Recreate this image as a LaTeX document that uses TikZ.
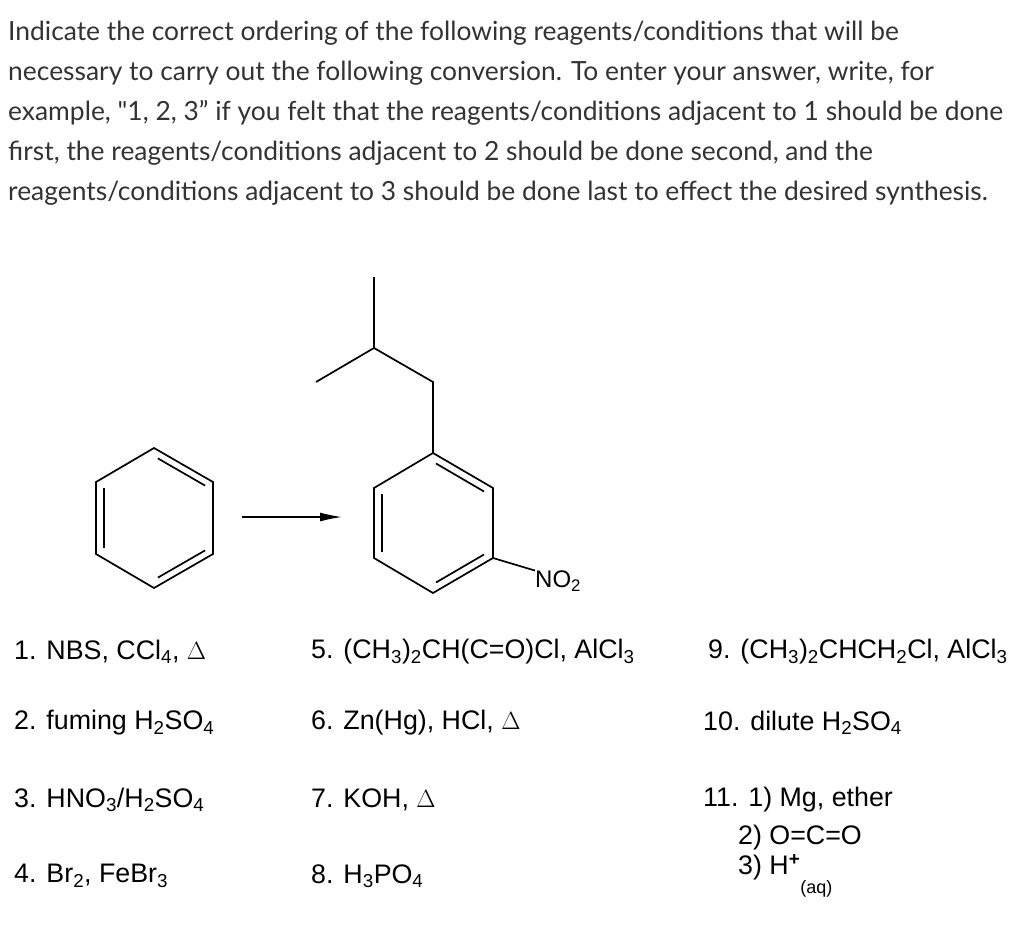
\documentclass[tikz,border=0pt]{standalone}
\usetikzlibrary{calc,arrows.meta}
\usepackage{fontspec}
\setmainfont{Liberation Sans}
\newfontfamily\latofont{Lato}
\begin{document}
\begin{tikzpicture}[x=1pt,y=-1pt,
  para/.style={anchor=west,inner sep=0pt,font=\latofont\fontsize{26.4}{30}\selectfont,text=black!80},
  reag/.style={anchor=west,inner sep=0pt,font=\fontsize{26.8}{30}\selectfont},
  bond/.style={line width=1.7pt}]
\useasboundingbox (0,0) rectangle (1024,931);
\node[para] (p1) at (8,33) {Indicate the correct ordering of the following reagents/conditions that will be};
\node[para] (p2) at (8,73) {necessary to carry out the following conversion. To enter your answer, write, for};
\node[para] (p3) at (8,113) {example, "1, 2, 3” if you felt that the reagents/conditions adjacent to 1 should be done};
\node[para] (p4) at (8,153) {first, the reagents/conditions adjacent to 2 should be done second, and the};
\node[para] (p5) at (8,193) {reagents/conditions adjacent to 3 should be done last to effect the desired synthesis.};
% benzene
\coordinate (a1) at (154,448); \coordinate (a2) at (213,482); \coordinate (a3) at (213,554);
\coordinate (a4) at (154,588); \coordinate (a5) at (96,554); \coordinate (a6) at (96,482);
\draw[bond] (a1)--(a2)--(a3)--(a4)--(a5)--(a6)--cycle;
\draw[bond] (104,488)--(104,548);
\draw[bond] ($(a1)!0.1!(a2)+(-2,7)$)--($(a1)!0.9!(a2)+(-2,7)$);
\draw[bond] ($(a3)!0.1!(a4)+(-2,-7)$)--($(a3)!0.9!(a4)+(-2,-7)$);
% arrow
\coordinate (s) at (242,517); \coordinate (e) at (342,517);
\draw[line width=1.5pt,-{Latex[length=22pt,width=9pt]}] (s)--(e);
% product
\coordinate (b1) at (433,453); \coordinate (b2) at (493,488); \coordinate (b3) at (493,558);
\coordinate (b4) at (433,593); \coordinate (b5) at (374,558); \coordinate (b6) at (374,488);
\draw[bond] (b1)--(b2)--(b3)--(b4)--(b5)--(b6)--cycle;
\draw[bond] (382,494)--(382,552);
\draw[bond] ($(b1)!0.1!(b2)+(-3,7)$)--($(b1)!0.9!(b2)+(-3,7)$);
\draw[bond] ($(b3)!0.1!(b4)+(-3,-7)$)--($(b3)!0.9!(b4)+(-3,-7)$);
\coordinate (c1) at (433,382); \coordinate (c2) at (374,348);
\coordinate (c3) at (374,277); \coordinate (c4) at (316,382);
\draw[bond] (b1)--(c1)--(c2)--(c3); \draw[bond] (c2)--(c4);
\node[inner sep=0pt,anchor=west,font=\fontsize{24}{28}\selectfont] (no2) at (535,581) {NO\textsubscript{2}};
\draw[bond] (b3)--(no2.north west);
% reagents
\node[reag] (r1) at (14,652) {1. NBS, CCl\textsubscript{4}, $\Delta$};
\node[reag] (r2) at (14,723) {2. fuming H\textsubscript{2}SO\textsubscript{4}};
\node[reag] (r3) at (14,800) {3. HNO\textsubscript{3}/H\textsubscript{2}SO\textsubscript{4}};
\node[reag] (r4) at (14,876) {4. Br\textsubscript{2}, FeBr\textsubscript{3}};
\node[reag] (r5) at (311,652) {5. (CH\textsubscript{3})\textsubscript{2}CH(C=O)Cl, AlCl\textsubscript{3}};
\node[reag] (r6) at (311,723) {6. Zn(Hg), HCl, $\Delta$};
\node[reag] (r7) at (311,800) {7. KOH, $\Delta$};
\node[reag] (r8) at (311,876) {8. H\textsubscript{3}PO\textsubscript{4}};
\node[reag] (r9) at (708,652) {9. (CH\textsubscript{3})\textsubscript{2}CHCH\textsubscript{2}Cl, AlCl\textsubscript{3}};
\node[reag] (r10) at (703,723) {10. dilute H\textsubscript{2}SO\textsubscript{4}};
\node[reag] (r11) at (703,800) {11. 1) Mg, ether};
\node[reag] (r11b) at (738,838) {2) O=C=O};
\node[reag] (r11c) at (738,876) {3) H\textsuperscript{\textbf{+}}\raisebox{-1.3ex}{\fontsize{18}{20}\selectfont (aq)}};
\end{tikzpicture}
\end{document}
